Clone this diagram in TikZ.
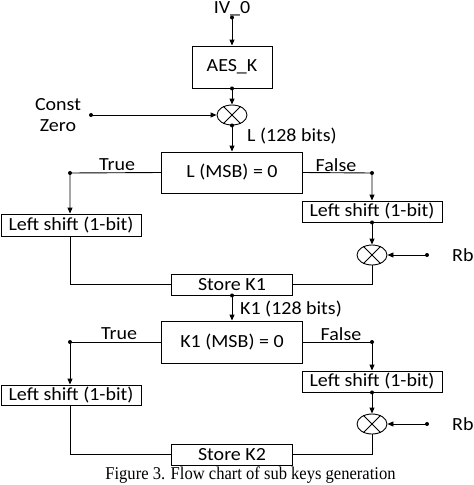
\documentclass[tikz,border=0pt]{standalone}
\usepackage{fontspec}
\setmainfont{Carlito}[FakeStretch=1.08]
\newfontfamily\capfont{Liberation Serif}
\usetikzlibrary{shapes.geometric,arrows.meta}
\begin{document}
\begin{tikzpicture}[x=1pt,y=-1pt,
  every node/.style={font=\fontsize{18.5}{21}\selectfont},
  box/.style={draw, line width=0.9pt, inner sep=0pt, anchor=center},
  xorn/.style={draw, ellipse, minimum width=30pt, minimum height=20pt, inner sep=0pt, line width=0.9pt},
  dot/.style={circle, fill, inner sep=0pt, minimum size=4pt},
  conn/.style={line width=0.9pt},
  arr/.style={conn, -{Triangle[length=6pt,width=5pt]}},
  lbl/.style={inner sep=0pt}]
\useasboundingbox (0,0) rectangle (474,485);

% top
\node[lbl] (iv) at (232,8.5) {IV\_0};
\node[dot] (dIV) at (232,17.5) {};
\node[box, minimum width=80pt, minimum height=42pt] (aes) at (232,67) {AES\_K};
\node[dot] (dA) at (aes.south) {};
\node[xorn] (x1) at (232,115) {};
\draw[conn] (x1.45) -- (x1.225) (x1.135) -- (x1.-45);
\node[dot] (dX1) at (x1.south) {};
\node[lbl, align=center] (cz) at (58,115) {Const\\Zero};
\node[dot] (dCZ) at (91,115) {};
\node[lbl] (l128) at (292,136) {L (128 bits)};

% first decision
\node[box, minimum width=141pt, minimum height=41pt] (msb1) at (232,172.5) {L (MSB) = 0};
\node[dot] (dT1) at (70,173) {};
\node[dot] (dF1) at (372,173) {};
\node[lbl] (t1) at (117,165) {True};
\node[lbl] (f1) at (336,165) {False};
\node[box, minimum width=140pt, minimum height=22pt] (ls1L) at (71,225) {Left shift (1-bit)};
\node[box, minimum width=140pt, minimum height=21pt] (ls1R) at (372,211.5) {Left shift (1-bit)};
\node[dot] (dL1) at (ls1R.south) {};
\node[xorn] (x2) at (372,255) {};
\draw[conn] (x2.45) -- (x2.225) (x2.135) -- (x2.-45);
\node[dot] (dRb1) at (427,255) {};
\node[lbl, anchor=west] (rb1) at (452,255) {Rb};
\node[box, minimum width=121pt, minimum height=21pt] (st1) at (232,284.5) {Store K1};
\node[dot] (dS1) at (st1.south) {};
\node[lbl] (k128) at (291,309) {K1 (128 bits)};

% second decision
\node[box, minimum width=141pt, minimum height=42pt] (msb2) at (232,342) {K1 (MSB) = 0};
\node[dot] (dT2) at (70,342) {};
\node[dot] (dF2) at (372,342) {};
\node[lbl] (t2) at (119,334) {True};
\node[lbl] (f2) at (341,334) {False};
\node[box, minimum width=140pt, minimum height=20pt] (ls2L) at (71,395) {Left shift (1-bit)};
\node[box, minimum width=140pt, minimum height=21pt] (ls2R) at (372,381.5) {Left shift (1-bit)};
\node[dot] (dL2) at (ls2R.south) {};
\node[xorn] (x3) at (372,424) {};
\draw[conn] (x3.45) -- (x3.225) (x3.135) -- (x3.-45);
\node[dot] (dRb2) at (427,424) {};
\node[lbl, anchor=west] (rb2) at (452,424) {Rb};
\node[box, minimum width=121pt, minimum height=21pt] (st2) at (232,454.5) {Store K2};

% caption
\node[lbl, font=\capfont\fontsize{18}{20}\selectfont] (cap) at (250.5,475.5) {\scalebox{0.92}[1]{Figure 3. Flow chart of sub keys generation}};

% connectors
\draw[arr] (dIV.center) -- (aes.north);
\draw[arr] (dA.center) -- (x1.north);
\draw[arr] (dCZ.center) -- (x1.west);
\draw[arr] (dX1.center) -- (msb1.north);
\draw[arr] (msb1.west) -- (dT1.center) -- (dT1.center |- ls1L.north);
\draw[arr] (msb1.east) -- (dF1.center) -- (ls1R.north);
\draw[arr] (dL1.center) -- (x2.north);
\draw[arr] (dRb1.center) -- (x2.east);
\draw[conn] (x2.south) |- (st1.east);
\draw[conn] (dT1.center |- ls1L.south) |- (st1.west);
\draw[arr] (dS1.center) -- (msb2.north);
\draw[arr] (msb2.west) -- (dT2.center) -- (dT2.center |- ls2L.north);
\draw[arr] (msb2.east) -- (dF2.center) -- (ls2R.north);
\draw[arr] (dL2.center) -- (x3.north);
\draw[arr] (dRb2.center) -- (x3.east);
\draw[conn] (x3.south) |- (st2.east);
\draw[conn] (dT2.center |- ls2L.south) |- (st2.west);
\end{tikzpicture}
\end{document}
